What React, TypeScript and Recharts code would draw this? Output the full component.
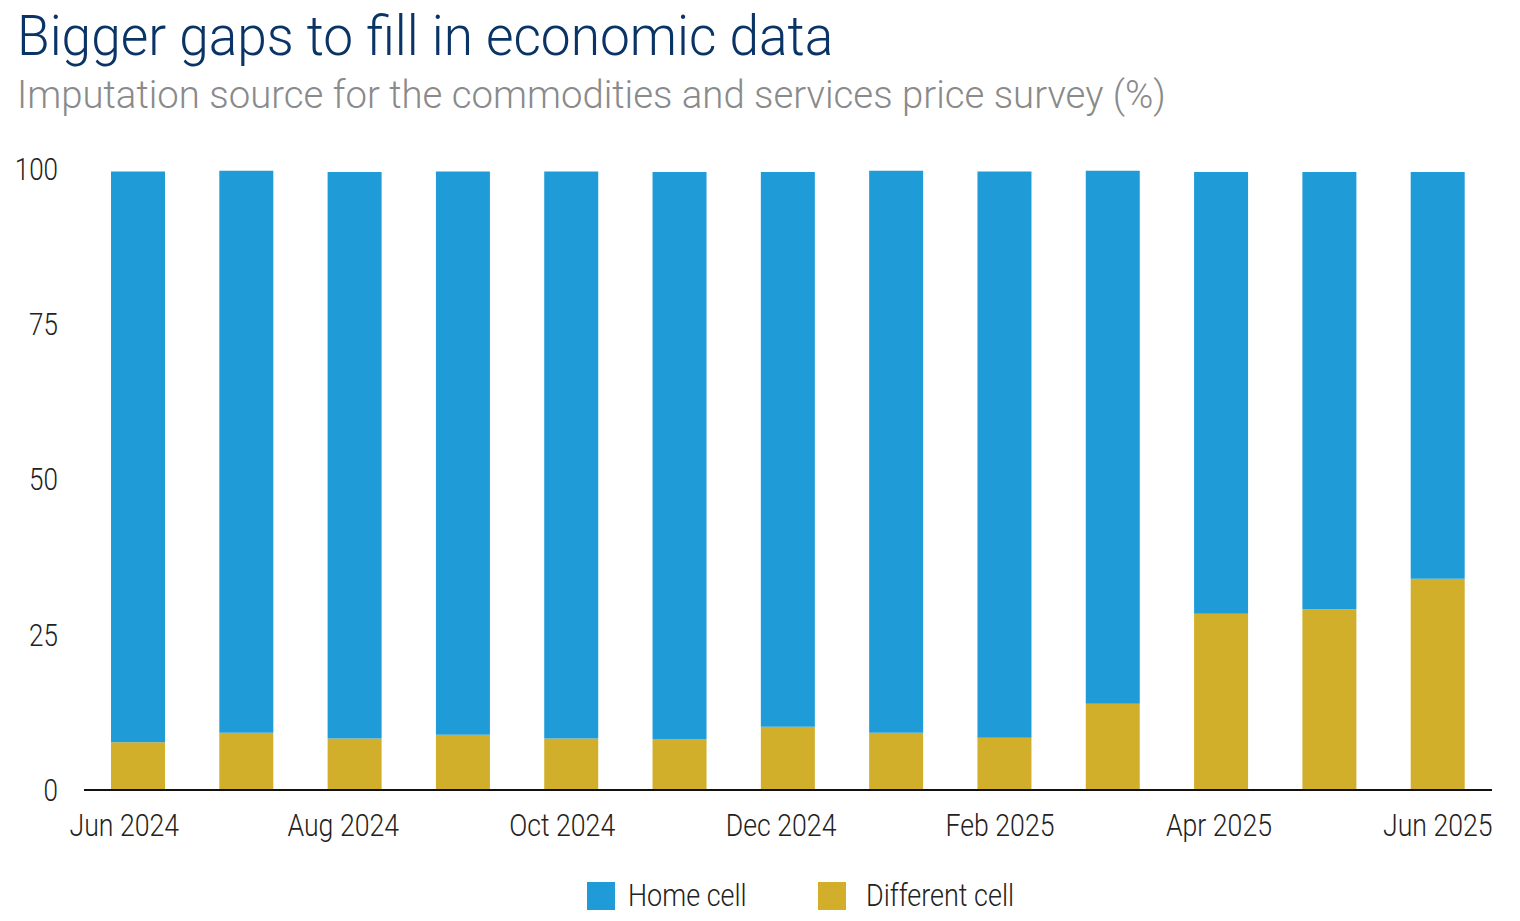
import React from "react";
import {
    BarChart,
    Bar,
    XAxis,
    YAxis,
    Legend,
} from "recharts";

// months shown on the x axis (every second one gets a label)
const months = [
    "Jun 2024", "Jul 2024", "Aug 2024", "Sep 2024", "Oct 2024", "Nov 2024",
    "Dec 2024", "Jan 2025", "Feb 2025", "Mar 2025", "Apr 2025", "May 2025", "Jun 2025",
];
const differentCell = [7.7, 9.2, 8.3, 8.9, 8.3, 8.2, 10.2, 9.2, 8.4, 13.9, 28.4, 29.1, 34.0];
const homeCell = [91.9, 90.5, 91.2, 90.7, 91.3, 91.3, 89.3, 90.5, 91.2, 85.8, 71.1, 70.4, 65.5];
const yTicks = [0, 25, 50, 75, 100];

const data = months.map((m, i) => ({
    month: m,
    different: differentCell[i],
    home: homeCell[i],
}));

const BLUE = "#1f9cd8";
const GOLD = "#d1af2b";
const FONT = "Roboto, 'Noto Sans', sans-serif";

const CondTick = (props: any) => {
    const { x, y, payload, textAnchor, shift, squeeze, drift } = props;
    // the original's month labels creep slightly left of their bars towards the start
    const dx = drift ? -(months.length - 1 - payload.index) * 1.15 : 0;
    return (
        <g transform={`translate(${x + dx},${y + shift}) scale(${squeeze},1)`}>
            <text
                x={0}
                y={0}
                dy="0.35em"
                textAnchor={textAnchor}
                fill="#222"
                fontFamily={FONT}
                fontWeight={300}
                fontSize={31}
            >
                {payload.value}
            </text>
        </g>
    );
};

const LegendContent = () => {
    const items = [
        { label: "Home cell", color: BLUE, w: 117, gap: 13 },
        { label: "Different cell", color: GOLD, w: 149, gap: 20 },
    ];
    return (
        <div style={{ display: "flex", justifyContent: "center", gap: 73, paddingLeft: 110, paddingTop: 27 }}>
            {items.map((it) => (
                <div key={it.label} style={{ display: "flex", alignItems: "center" }}>
                    <span style={{ width: 28, height: 28, background: it.color, display: "inline-block", marginRight: it.gap }} />
                    <span
                        style={{
                            fontFamily: FONT,
                            fontWeight: 300,
                            fontSize: 31,
                            color: "#222",
                            display: "inline-block",
                            transform: "scaleX(0.87)",
                            transformOrigin: "left center",
                            width: it.w,
                            whiteSpace: "nowrap",
                        }}
                    >
                        {it.label}
                    </span>
                </div>
            ))}
        </div>
    );
};

export default function App() {
    return (
        <div style={{ position: "absolute", left: 0, top: 0, width: 1520, height: 921, background: "#fff" }}>
            <div
                style={{
                    position: "absolute",
                    left: 17,
                    top: 4,
                    fontFamily: FONT,
                    fontWeight: 300,
                    fontSize: 55,
                    color: "#0b3466",
                    whiteSpace: "nowrap",
                    transform: "scaleX(0.968)",
                    transformOrigin: "left top",
                }}
            >
                Bigger gaps to fill in economic data
            </div>
            <div
                style={{
                    position: "absolute",
                    left: 17,
                    top: 72,
                    fontFamily: FONT,
                    fontWeight: 300,
                    fontSize: 38.35,
                    color: "#8a8a8a",
                    whiteSpace: "nowrap",
                }}
            >
                Imputation source for the commodities and services price survey (%)
            </div>
            <div style={{ position: "absolute", left: 0, top: 0 }}>
                <BarChart
                    width={1520}
                    height={921}
                    data={data}
                    margin={{ top: 169, right: 28, left: 0, bottom: 0 }}
                    barSize={54}
                >
                    <XAxis
                        dataKey="month"
                        interval={1}
                        tickLine={false}
                        axisLine={{ stroke: "#111", strokeWidth: 2 }}
                        height={60}
                        tick={<CondTick shift={15} squeeze={0.86} drift />}
                        tickMargin={14}
                    />
                    <YAxis
                        domain={[0, 100]}
                        ticks={yTicks}
                        width={84}
                        axisLine={false}
                        tickLine={false}
                        tick={<CondTick shift={0} squeeze={0.84} />}
                        tickMargin={20}
                    />
                    <Legend verticalAlign="bottom" height={71} content={<LegendContent />} />
                    <Bar dataKey="different" name="Different cell" stackId="a" fill={GOLD} isAnimationActive={false} />
                    <Bar dataKey="home" name="Home cell" stackId="a" fill={BLUE} isAnimationActive={false} />
                </BarChart>
            </div>
        </div>
    );
}
